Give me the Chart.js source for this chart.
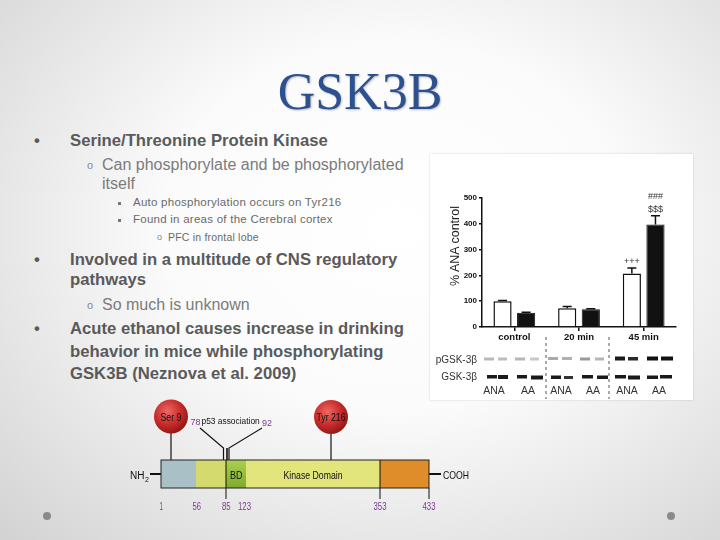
<!DOCTYPE html>
<html>
<head>
<meta charset="utf-8">
<script src="https://cdn.jsdelivr.net/npm/chart.js@4.4.1/dist/chart.umd.min.js"></script>
<style>
  html, body { margin: 0; padding: 0; }
  body {
    width: 720px; height: 540px; overflow: hidden; position: relative;
    font-family: "Liberation Sans", Arial, sans-serif;
    background: radial-gradient(ellipse 80% 85% at 55% 42%, #ffffff 0%, #fbfbfb 40%, #d0d0d0 100%);
  }
  .title {
    position: absolute; left: 0; width: 720px; top: 61px; text-align: center;
    font-family: "Liberation Serif", "Times New Roman", serif; font-size: 52px; line-height: 1.2;
    color: #2d5090; text-shadow: 1px 1px 2px rgba(0, 0, 0, 0.25);
  }
  .t { position: absolute; white-space: nowrap; line-height: 1.2; }
  .l1 { font-size: 16.7px; font-weight: bold; color: #5a5a5a; }
  .l2 { font-size: 16px; color: #7b7b7b; }
  .l3 { font-size: 11.5px; color: #6a6a6a; letter-spacing: 0.25px; }
  .l4 { font-size: 10.5px; color: #6a6a6a; letter-spacing: 0.2px; }
  .ob { font-size: 11px; color: #888; }
  .ob4 { font-size: 9px; color: #888; }
  .sq { position: absolute; width: 3px; height: 3px; background: #777; }
  #fig {
    position: absolute; left: 430px; top: 154px; width: 263px; height: 246px;
    background: #fff; box-shadow: 0 0 2px rgba(0, 0, 0, 0.18);
  }
  #chart { position: absolute; left: 430px; top: 160px; }
  .ytitle {
    position: absolute; left: 455px; top: 246px; white-space: nowrap;
    font-size: 12.5px; color: #222; transform: translate(-50%, -50%) rotate(-90deg);
  }
  svg.ov { position: absolute; left: 0; top: 0; }
</style>
</head>
<body>
<div class="title">GSK3B</div>

<div class="t l1" style="left:34px;top:131px;">•</div>
<div class="t l1" style="left:70px;top:131px;">Serine/Threonine Protein Kinase</div>
<div class="t ob" style="left:87px;top:159px;">o</div>
<div class="t l2" style="left:102px;top:155px;">Can phosphorylate and be phosphorylated</div>
<div class="t l2" style="left:102px;top:174px;">itself</div>
<div class="sq" style="left:118px;top:202px;"></div>
<div class="t l3" style="left:133px;top:196px;">Auto phosphorylation occurs on Tyr216</div>
<div class="sq" style="left:118px;top:219px;"></div>
<div class="t l3" style="left:133px;top:213px;">Found in areas of the Cerebral cortex</div>
<div class="t ob4" style="left:157px;top:232px;">o</div>
<div class="t l4" style="left:168px;top:231px;">PFC in frontal lobe</div>
<div class="t l1" style="left:34px;top:250px;">•</div>
<div class="t l1" style="left:70px;top:250px;">Involved in a multitude of CNS regulatory</div>
<div class="t l1" style="left:70px;top:270px;">pathways</div>
<div class="t ob" style="left:87px;top:299px;">o</div>
<div class="t l2" style="left:102px;top:295px;">So much is unknown</div>
<div class="t l1" style="left:34px;top:319px;">•</div>
<div class="t l1" style="left:70px;top:319px;">Acute ethanol causes increase in drinking</div>
<div class="t l1" style="left:70px;top:342px;">behavior in mice while phosphorylating</div>
<div class="t l1" style="left:70px;top:364px;">GSK3B (Neznova et al. 2009)</div>

<div id="fig"></div>
<canvas id="chart" width="263" height="183"></canvas>
<div class="ytitle">% ANA control</div>

<!-- western blot strip under the bar chart -->
<svg class="ov" width="720" height="540" font-family="Liberation Sans, Arial, sans-serif">
  <text x="477" y="363" font-size="10" fill="#333" text-anchor="end">pGSK-3β</text>
  <text x="477" y="380" font-size="10" fill="#333" text-anchor="end">GSK-3β</text>
  <g fill="#333" font-size="10.5" text-anchor="middle">
    <text x="494" y="394">ANA</text><text x="528" y="394">AA</text>
    <text x="561" y="394">ANA</text><text x="593" y="394">AA</text>
    <text x="627" y="394">ANA</text><text x="659" y="394">AA</text>
  </g>
  <g>
    <rect x="484" y="357.5" width="10" height="3" fill="#b9b9b9"/>
    <rect x="498" y="357.5" width="9" height="3" fill="#bdbdbd"/>
    <rect x="515" y="357.5" width="10" height="3" fill="#b5b5b5"/>
    <rect x="530" y="357.5" width="9" height="3" fill="#c8c8c8"/>
    <rect x="548" y="357" width="10" height="3" fill="#aaaaaa"/>
    <rect x="562" y="357" width="10" height="3" fill="#b0b0b0"/>
    <rect x="580" y="357.5" width="10" height="3" fill="#999"/>
    <rect x="595" y="357.5" width="9" height="3" fill="#b5b5b5"/>
    <rect x="615" y="356.5" width="10" height="4" fill="#1a1a1a"/>
    <rect x="628" y="357" width="10" height="3.5" fill="#2a2a2a"/>
    <rect x="647" y="356.5" width="11" height="4" fill="#111"/>
    <rect x="661" y="356.5" width="12" height="4" fill="#111"/>
  </g>
  <g fill="#1a1a1a">
    <rect x="487" y="375" width="10" height="3.5"/>
    <rect x="498" y="375" width="10" height="4"/>
    <rect x="517" y="375" width="10" height="3.5"/>
    <rect x="531" y="375.5" width="12" height="4"/>
    <rect x="551" y="375.5" width="10" height="3.5"/>
    <rect x="564" y="376" width="9" height="3" fill="#333"/>
    <rect x="582" y="375" width="11" height="3.5"/>
    <rect x="597" y="375.5" width="11" height="3.5"/>
    <rect x="615" y="375" width="11" height="3.5"/>
    <rect x="628" y="375.5" width="12" height="4"/>
    <rect x="647" y="375.5" width="11" height="3.5"/>
    <rect x="660" y="375" width="12" height="3.5"/>
  </g>
  <g stroke="#555" stroke-width="1" stroke-dasharray="3 3">
    <line x1="546" y1="337" x2="546" y2="399"/>
    <line x1="609" y1="337" x2="609" y2="399"/>
  </g>
</svg>

<!-- protein domain diagram -->
<svg class="ov" width="720" height="540" font-family="Liberation Sans, Arial, sans-serif">
  <defs>
    <radialGradient id="ball" cx="40%" cy="35%" r="70%">
      <stop offset="0" stop-color="#ea6a66"/>
      <stop offset="0.55" stop-color="#c92c2a"/>
      <stop offset="1" stop-color="#8c1512"/>
    </radialGradient>
    <linearGradient id="bd" x1="0" y1="0" x2="0" y2="1">
      <stop offset="0" stop-color="#abd04e"/>
      <stop offset="1" stop-color="#7eab2c"/>
    </linearGradient>
  </defs>
  <g stroke="#111" stroke-width="1.2" fill="none">
    <line x1="171" y1="433" x2="171" y2="460"/>
    <line x1="331" y1="434" x2="331" y2="460"/>
    <polyline points="200,428 223.5,448 223.5,460"/>
    <polyline points="262,428 229,448 229,460"/>
    <line x1="227" y1="448" x2="227" y2="460" stroke-width="1.6"/>
  </g>
  <line x1="150" y1="474" x2="161" y2="474" stroke="#111" stroke-width="2"/>
  <line x1="429" y1="474" x2="441" y2="474" stroke="#111" stroke-width="2"/>
  <rect x="161" y="460" width="35" height="28" fill="#a9c1c6"/>
  <rect x="196" y="460" width="30" height="28" fill="#d5da6e"/>
  <rect x="226" y="460" width="20" height="28" fill="url(#bd)"/>
  <rect x="246" y="460" width="134" height="28" fill="#e2e47c"/>
  <rect x="380" y="460" width="49" height="28" fill="#df8c2a"/>
  <rect x="161" y="460" width="268" height="28" fill="none" stroke="#222" stroke-width="1"/>
  <g stroke="#111" stroke-width="1">
    <line x1="226" y1="460" x2="226" y2="499"/>
    <line x1="380" y1="460" x2="380" y2="499"/>
    <line x1="429" y1="488" x2="429" y2="499"/>
  </g>
  <circle cx="171" cy="416.5" r="17" fill="url(#ball)"/>
  <circle cx="331" cy="417" r="17" fill="url(#ball)"/>
  <g fill="#111" font-size="10.5">
    <text x="160.5" y="421" textLength="21" lengthAdjust="spacingAndGlyphs">Ser 9</text>
    <text x="316.5" y="421" textLength="29" lengthAdjust="spacingAndGlyphs">Tyr 216</text>
    <text x="201.5" y="424" font-size="8.4">p53 association</text>
    <text x="130" y="479" font-size="10">NH</text>
    <text x="145" y="482" font-size="7">2</text>
    <text x="443" y="479" font-size="11" textLength="26" lengthAdjust="spacingAndGlyphs">COOH</text>
    <text x="230" y="479" font-size="11" textLength="12.5" lengthAdjust="spacingAndGlyphs">BD</text>
    <text x="283.5" y="479" textLength="59" lengthAdjust="spacingAndGlyphs">Kinase Domain</text>
  </g>
  <g fill="#7c3a8e" font-size="10.5">
    <text x="190.5" y="425" font-size="9">78</text>
    <text x="262" y="426" font-size="9">92</text>
    <text x="159.5" y="510" textLength="3.5" lengthAdjust="spacingAndGlyphs">1</text>
    <text x="192.5" y="510" textLength="8.5" lengthAdjust="spacingAndGlyphs">56</text>
    <text x="222" y="510" textLength="8.5" lengthAdjust="spacingAndGlyphs">85</text>
    <text x="238" y="510" textLength="13" lengthAdjust="spacingAndGlyphs">123</text>
    <text x="373.5" y="510" textLength="13" lengthAdjust="spacingAndGlyphs">353</text>
    <text x="422.5" y="510" textLength="13" lengthAdjust="spacingAndGlyphs">433</text>
  </g>
  <circle cx="47" cy="516" r="4" fill="#8a8a8a"/>
  <circle cx="671" cy="516" r="4" fill="#8a8a8a"/>
</svg>

<script>
const categories = ['control', '20 min', '45 min'];
const anaValues = [100, 73, 207];
const aaValues = [55, 69, 397];
const anaErrors = [3, 6, 22];
const aaErrors = [2, 2, 34];
const anaMarks = [[], [], ['+++']];
const aaMarks = [[], [], ['###', '$$$']];
const yTicks = [0, 100, 200, 300, 400, 500];

const FONT = '"Liberation Sans", Arial, sans-serif';

// SEM whiskers plus the significance symbols above them
const errorBars = {
  id: 'errorBars',
  afterDatasetsDraw(chart) {
    const { ctx } = chart;
    const y = chart.scales.y;
    chart.data.datasets.forEach((ds, i) => {
      const meta = chart.getDatasetMeta(i);
      meta.data.forEach((bar, j) => {
        const top = y.getPixelForValue(ds.data[j] + ds.errors[j]);
        ctx.save();
        ctx.strokeStyle = '#111';
        ctx.lineWidth = 1.5;
        ctx.beginPath();
        ctx.moveTo(bar.x, bar.y);
        ctx.lineTo(bar.x, top);
        ctx.moveTo(bar.x - 4.5, top);
        ctx.lineTo(bar.x + 4.5, top);
        ctx.stroke();

        const marks = ds.marks[j];
        ctx.fillStyle = '#333';
        ctx.font = '9px ' + FONT;
        ctx.textAlign = 'center';
        ctx.textBaseline = 'alphabetic';
        for (let k = 0; k < marks.length; k++) {
          const line = marks[marks.length - 1 - k];
          ctx.fillText(line, bar.x, top - 4 - k * 13);
        }
        ctx.restore();
      });
    });
  }
};

new Chart(document.getElementById('chart'), {
  type: 'bar',
  data: {
    labels: categories,
    datasets: [
      {
        label: 'ANA',
        data: anaValues,
        errors: anaErrors,
        marks: anaMarks,
        backgroundColor: '#ffffff',
        borderColor: '#111111',
        borderWidth: 1.5,
        categoryPercentage: 0.73,
        barPercentage: 0.77
      },
      {
        label: 'AA',
        data: aaValues,
        errors: aaErrors,
        marks: aaMarks,
        backgroundColor: '#111111',
        borderColor: '#111111',
        borderWidth: 1,
        categoryPercentage: 0.73,
        barPercentage: 0.77
      }
    ]
  },
  options: {
    responsive: false,
    animation: false,
    layout: { padding: { top: 38, right: 17, left: 0, bottom: 0 } },
    plugins: {
      legend: { display: false },
      tooltip: { enabled: false }
    },
    scales: {
      x: {
        grid: {
          drawOnChartArea: false,
          offset: false,
          tickLength: 4,
          color: '#111',
          lineWidth: 1.5
        },
        border: { color: '#111', width: 1.5 },
        ticks: {
          color: '#111',
          padding: 1,
          font: { family: FONT, size: 9.5, weight: 'bold' }
        },
        afterFit: (scale) => { scale.height = 16; }
      },
      y: {
        min: 0,
        max: 500,
        afterBuildTicks: (scale) => { scale.ticks = yTicks.map(v => ({ value: v })); },
        grid: {
          drawOnChartArea: false,
          tickLength: 3,
          color: '#111',
          lineWidth: 1.5
        },
        border: { color: '#111', width: 1.5 },
        ticks: {
          color: '#111',
          padding: 2,
          font: { family: FONT, size: 8, weight: 'bold' }
        },
        afterFit: (scale) => { scale.width = 52; }
      }
    }
  },
  plugins: [errorBars]
});
</script>
</body>
</html>
